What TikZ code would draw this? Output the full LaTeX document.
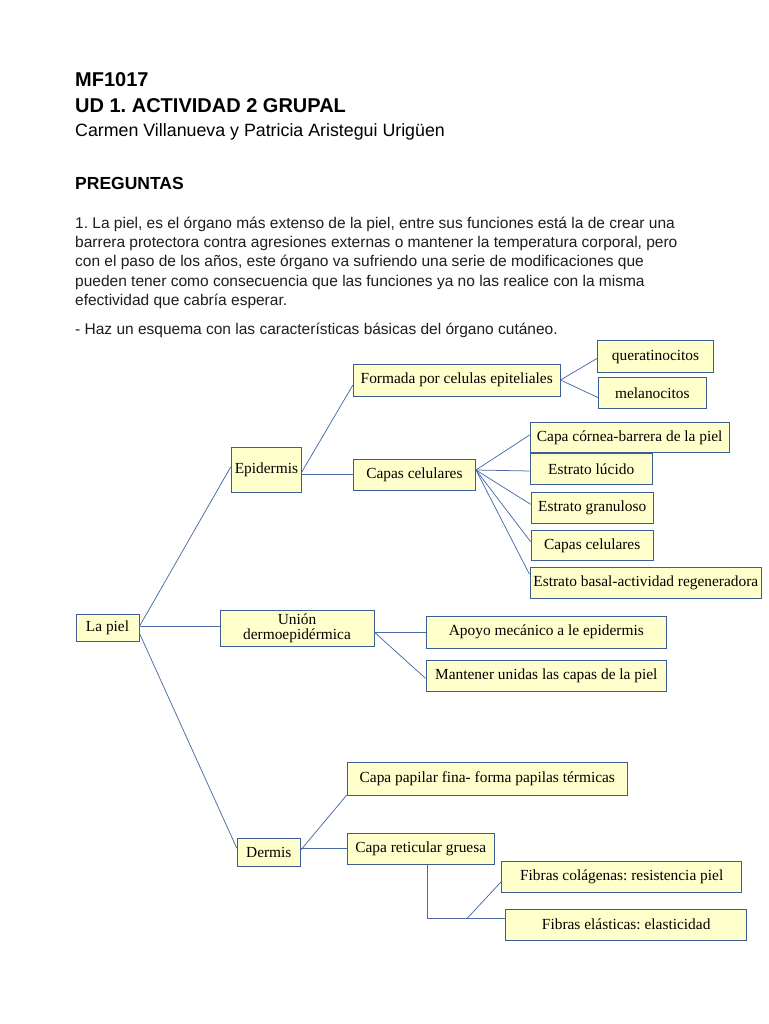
\documentclass[tikz,border=0pt]{standalone}
\usepackage{fontspec}
\setmainfont{Liberation Serif}
\newfontfamily\hdr{Liberation Sans}
\definecolor{boxfill}{HTML}{FFFFCC}
\definecolor{boxline}{HTML}{3B5E95}
\definecolor{conn}{HTML}{4A6CA6}
\definecolor{bodytxt}{HTML}{1E1E1E}
\frenchspacing
\begin{document}
\begin{tikzpicture}[x=1pt,y=-1pt,
  box/.style={draw=boxline, line width=0.9pt, fill=boxfill, inner sep=1pt,
    font=\fontsize{15.4}{15.5}\selectfont, align=center},
  link/.style={draw=conn, line width=0.75pt},
  hd/.style={anchor=base west, inner sep=0pt},
  bigb/.style={font=\hdr\bfseries\fontsize{20}{24}\selectfont},
  para/.style={anchor=base west, inner sep=0pt, text=bodytxt, font=\hdr\fontsize{15.5}{19}\selectfont}]

\fill[white] (0,0) rectangle (768,1024);
\useasboundingbox (0,0) rectangle (768,1024);

% header text
\node[hd, bigb] (t1) at (75,86.7) {MF1017};
\node[hd, bigb] (t2) at (75,112.3) {UD 1. ACTIVIDAD 2 GRUPAL};
\node[hd, font=\hdr\fontsize{17.8}{20}\selectfont] (t3) at (75,136.5) {Carmen Villanueva y Patricia Aristegui Urigüen};
\node[hd, font=\hdr\bfseries\fontsize{17.5}{20}\selectfont] (t4) at (75,190) {PREGUNTAS};
\node[para] (p1) at (75,228.3) {1. La piel, es el órgano más extenso de la piel, entre sus funciones está la de crear una};
\node[para] (p2) at (75,247.7) {barrera protectora contra agresiones externas o mantener la temperatura corporal, pero};
\node[para] (p3) at (75,266.8) {con el paso de los años, este órgano va sufriendo una serie de modificaciones que};
\node[para] (p4) at (75,286) {pueden tener como consecuencia que las funciones ya no las realice con la misma};
\node[para] (p5) at (75,305.2) {efectividad que cabría esperar.};
\node[para] (p6) at (75,334) {- Haz un esquema con las características básicas del órgano cutáneo.};

% boxes
\node[box, minimum width=115.6pt, minimum height=32pt] (quer) at (655.5,356.7) {queratinocitos};
\node[box, minimum width=107.3pt, minimum height=31pt] (mela) at (652.3,392.8) {melanocitos};
\node[box, minimum width=206.7pt, minimum height=32pt] (form) at (456.7,380) {Formada por celulas epiteliales};
\node[box, minimum width=70.2pt, minimum height=44.7pt] (epid) at (266.4,469.7) {Epidermis};
\node[box, minimum width=122.2pt, minimum height=31pt] (capas) at (414.4,474.8) {Capas celulares};
\node[box, minimum width=199.3pt, minimum height=30.4pt] (corn) at (629.7,437.5) {Capa córnea-barrera de la piel};
\node[box, minimum width=122.3pt, minimum height=31pt] (luci) at (591.2,468.8) {Estrato lúcido};
\node[box, minimum width=122.3pt, minimum height=31.4pt] (gran) at (592.2,508) {Estrato granuloso};
\node[box, minimum width=122.3pt, minimum height=30.7pt] (capasb) at (592.2,545.3) {Capas celulares};
\node[box, minimum width=231.7pt, minimum height=31pt] (basal) at (645.8,582.8) {Estrato basal-actividad regeneradora};
\node[box, minimum width=63pt, minimum height=27.7pt] (piel) at (107.5,627.8) {La piel};
\node[box, minimum width=154pt, minimum height=36.7pt] (union) at (297,628.3) {Unión\\dermoepidérmica};
\node[box, minimum width=240.7pt, minimum height=32.3pt] (apoyo) at (546.3,632.2) {Apoyo mecánico a le epidermis};
\node[box, minimum width=240.7pt, minimum height=31pt] (mant) at (546.3,675.5) {Mantener unidas las capas de la piel};
\node[box, minimum width=280pt, minimum height=33pt] (papi) at (487.3,779.2) {Capa papilar fina- forma papilas térmicas};
\node[box, minimum width=63pt, minimum height=28pt] (derm) at (268.8,852.7) {Dermis};
\node[box, minimum width=146.7pt, minimum height=31pt] (reti) at (420.7,848.8) {Capa reticular gruesa};
\node[box, minimum width=240pt, minimum height=31pt] (cola) at (621.7,877.2) {Fibras colágenas: resistencia piel};
\node[box, minimum width=241pt, minimum height=30.7pt] (elas) at (626.2,924.7) {Fibras elásticas: elasticidad};

% connector points
\coordinate (pielR) at ([yshift=1.5pt]piel.east);
\coordinate (unionR) at ([yshift=-4pt]union.east);
\coordinate (fan) at ([yshift=4.8pt]capas.east);
\coordinate (elasL) at ([yshift=6.5pt]elas.west);
\coordinate (split) at (467.3,918.2);

% connectors
\draw[link] (pielR) -- ([yshift=3pt]epid.west);
\draw[link] (pielR) -- (union.west |- pielR);
\draw[link] ([yshift=-5.5pt]piel.east) -- ([yshift=4.4pt]derm.west);

\draw[link] ([yshift=-2pt]epid.east) -- ([yshift=-5pt]form.west);
\draw[link] (epid.east |- capas.west) -- (capas.west);

\draw[link] (form.east) -- ([yshift=-1.6pt]quer.west);
\draw[link] (form.east) -- ([yshift=-4.9pt]mela.west);

\draw[link] (fan) -- ([yshift=2.5pt]corn.west);
\draw[link] (fan) -- ([yshift=-2.2pt]luci.west);
\draw[link] (fan) -- ([yshift=3.7pt]gran.west);
\draw[link] (fan) -- ([yshift=3.6pt]capasb.west);
\draw[link] (fan) -- ([yshift=8.5pt]basal.west);

\draw[link] (unionR) -- (apoyo.west |- unionR);
\draw[link] (unionR) -- ([yshift=-2.8pt]mant.west);

\draw[link] ([yshift=2.7pt]derm.east) -- ([yshift=-15.8pt]papi.west);
\draw[link] (reti.west -| derm.east) -- (reti.west);

\draw[link] ([xshift=6.6pt]reti.south) |- (elasL);
\draw[link] (split) -- ([yshift=-4.5pt]cola.west);
\end{tikzpicture}
\end{document}
